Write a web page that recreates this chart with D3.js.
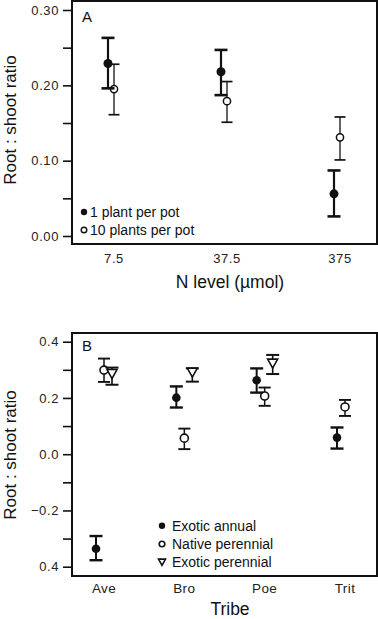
<!DOCTYPE html>
<html><head><meta charset="utf-8">
<script src="https://cdn.jsdelivr.net/npm/d3@7"></script>
<style>
html,body{margin:0;padding:0;background:#fff;}
svg{display:block;font-family:"Liberation Sans",Arial,sans-serif;}
</style></head>
<body>
<svg id="chart" width="378" height="619"></svg>
<script>
// ---------- Panel A data ----------
const nLevels = ["7.5", "37.5", "375"];
const onePlantMean  = [0.229, 0.218, 0.056];
const onePlantHigh  = [0.263, 0.247, 0.087];
const onePlantLow   = [0.196, 0.187, 0.026];
const tenPlantMean  = [0.195, 0.179, 0.131];
const tenPlantHigh  = [0.228, 0.205, 0.158];
const tenPlantLow   = [0.161, 0.151, 0.101];
const yTicksA = [0, 0.1, 0.2, 0.3];
const yTickLabelsA = ["0.00", "0.10", "0.20", "0.30"];
const yMinorA = [0.05, 0.15, 0.25];
const legendA = ["1 plant per pot", "10 plants per pot"];

// ---------- Panel B data ----------
const tribes = ["Ave", "Bro", "Poe", "Trit"];
const exoticAnnualMean = [-0.336, 0.201, 0.263, 0.059];
const exoticAnnualHigh = [-0.291, 0.241, 0.305, 0.095];
const exoticAnnualLow  = [-0.377, 0.166, 0.219, 0.020];
const nativePerMean    = [0.299, 0.057, 0.207, 0.168];
const nativePerHigh    = [0.340, 0.091, 0.237, 0.193];
const nativePerLow     = [0.257, 0.018, 0.172, 0.136];
const exoticPerTribes  = ["Ave", "Bro", "Poe"];
const exoticPerMean    = [0.285, 0.290, 0.322];
const exoticPerHigh    = [0.308, 0.305, 0.353];
const exoticPerLow     = [0.247, 0.258, 0.285];
const yTicksB = [-0.4, -0.2, 0, 0.2, 0.4];
const yTickLabelsB = ["0.4", "\u22120.2", "0.0", "0.2", "0.4"];
const yMinorB = [-0.3, -0.1, 0.1, 0.3];
const legendB = ["Exotic annual", "Native perennial", "Exotic perennial"];

const svg = d3.select("#chart");

function frame(g, x0, x1, y0, y1) {
  g.append("rect").attr("x", x0).attr("y", y0).attr("width", x1 - x0).attr("height", y1 - y0)
    .attr("fill", "none").attr("stroke", "#111").attr("stroke-width", 2);
}
function yAxis(g, y, x0, ticks, labels, minor) {
  const ax = d3.axisLeft(y).tickValues(ticks).tickFormat((d, i) => labels[i]).tickSize(9).tickPadding(4);
  const ag = g.append("g").attr("transform", `translate(${x0},0)`).call(ax);
  ag.select(".domain").remove();
  ag.selectAll("line").attr("stroke", "#111").attr("stroke-width", 1.6);
  ag.selectAll("text").attr("font-size", 13).attr("fill", "#222").attr("font-family", "Liberation Sans, Arial, sans-serif").attr("letter-spacing", 0.6);
  const mg = g.append("g").attr("transform", `translate(${x0},0)`).call(d3.axisLeft(y).tickValues(minor).tickSize(9).tickFormat(""));
  mg.select(".domain").remove();
  mg.selectAll("line").attr("stroke", "#111").attr("stroke-width", 1.6);
}
function errBar(g, x, yTop, yBot, cap, w) {
  g.append("line").attr("x1", x).attr("x2", x).attr("y1", yTop).attr("y2", yBot).attr("stroke", "#111").attr("stroke-width", w);
  g.append("line").attr("x1", x - cap / 2).attr("x2", x + cap / 2).attr("y1", yTop).attr("y2", yTop).attr("stroke", "#111").attr("stroke-width", w + 0.4);
  g.append("line").attr("x1", x - cap / 2).attr("x2", x + cap / 2).attr("y1", yBot).attr("y2", yBot).attr("stroke", "#111").attr("stroke-width", w + 0.4);
}
function dot(g, x, y, r) { g.append("circle").attr("cx", x).attr("cy", y).attr("r", r).attr("fill", "#111"); }
function ring(g, x, y, r, w) { g.append("circle").attr("cx", x).attr("cy", y).attr("r", r).attr("fill", "#fff").attr("stroke", "#111").attr("stroke-width", w || 1.5); }
function tri(g, x, y, s) {
  const h = s * 0.9;
  g.append("path").attr("d", `M${x - s / 2},${y - h / 2}L${x + s / 2},${y - h / 2}L${x},${y + h / 2}Z`)
    .attr("fill", "#fff").attr("stroke", "#111").attr("stroke-width", 1.6);
}

// ================= Panel A =================
const A = { x0: 72, x1: 377, y0: 1, y1: 244 };
const gA = svg.append("g");
const xA = d3.scalePoint().domain(nLevels).range([111, 337]);
const yA = d3.scaleLinear().domain([0, 0.3]).range([236, 10]);
yAxis(gA, yA, A.x0, yTicksA, yTickLabelsA, yMinorA);

nLevels.forEach((c, i) => {
  const xo = xA(c) + 3;
  errBar(gA, xo, yA(tenPlantHigh[i]), yA(tenPlantLow[i]), 11, 1.3);
  ring(gA, xo, yA(tenPlantMean[i]), 3.6, 1.5);
});
nLevels.forEach((c, i) => {
  const xb = xA(c) - 3;
  errBar(gA, xb, yA(onePlantHigh[i]), yA(onePlantLow[i]), 13, 2.2);
  dot(gA, xb, yA(onePlantMean[i]), 4.5);
});
frame(gA, A.x0, A.x1, A.y0, A.y1);

gA.selectAll(".xlab").data(nLevels).enter().append("text")
  .attr("x", d => xA(d) + 3).attr("y", 263).attr("text-anchor", "middle")
  .attr("font-size", 13).attr("fill", "#222").attr("letter-spacing", 0.6).text(d => d);
gA.append("text").attr("x", 230).attr("y", 288).attr("text-anchor", "middle")
  .attr("font-size", 17.5).attr("fill", "#111").text("N level (\u00b5mol)");
gA.append("text").attr("transform", "translate(16,120) rotate(-90)").attr("text-anchor", "middle")
  .attr("font-size", 17).attr("fill", "#111").text("Root : shoot ratio");
gA.append("text").attr("x", 82).attr("y", 22).attr("font-size", 15).attr("fill", "#111").text("A");

dot(gA, 84, 212, 3.2);
ring(gA, 84, 230, 2.8, 1.4);
gA.selectAll(".leg").data(legendA).enter().append("text")
  .attr("x", 90).attr("y", (d, i) => 217 + i * 18).attr("font-size", 14).attr("fill", "#111").text(d => d);

// ================= Panel B =================
const B = { x0: 72, x1: 377, y0: 333, y1: 576 };
const gB = svg.append("g");
const xB = d3.scalePoint().domain(tribes).range([104, 345]);
const yB = d3.scaleLinear().domain([-0.4, 0.4]).range([566.7, 341.7]);
yAxis(gB, yB, B.x0, yTicksB, yTickLabelsB, yMinorB);

tribes.forEach((c, i) => {
  const x = xB(c);
  errBar(gB, x, yB(nativePerHigh[i]), yB(nativePerLow[i]), 12, 1.5);
  ring(gB, x, yB(nativePerMean[i]), 4, 1.6);
});
exoticPerTribes.forEach((c, i) => {
  const x = xB(c) + 8;
  errBar(gB, x, yB(exoticPerHigh[i]), yB(exoticPerLow[i]), 13, 1.6);
  tri(gB, x, yB(exoticPerMean[i]), 10);
});
tribes.forEach((c, i) => {
  const x = xB(c) - 8;
  errBar(gB, x, yB(exoticAnnualHigh[i]), yB(exoticAnnualLow[i]), 13, 2);
  dot(gB, x, yB(exoticAnnualMean[i]), 4.3);
});
frame(gB, B.x0, B.x1, B.y0, B.y1);

gB.selectAll(".xlab").data(tribes).enter().append("text")
  .attr("x", d => xB(d)).attr("y", 593).attr("text-anchor", "middle")
  .attr("font-size", 13.5).attr("fill", "#222").attr("letter-spacing", 0.4).text(d => d);
gB.append("text").attr("x", 230).attr("y", 615).attr("text-anchor", "middle")
  .attr("font-size", 17.5).attr("fill", "#111").text("Tribe");
gB.append("text").attr("transform", "translate(16,455) rotate(-90)").attr("text-anchor", "middle")
  .attr("font-size", 17).attr("fill", "#111").text("Root : shoot ratio");
gB.append("text").attr("x", 82).attr("y", 351).attr("font-size", 15).attr("fill", "#111").text("B");

dot(gB, 162, 525.7, 3.2);
ring(gB, 162, 544, 2.8, 1.6);
tri(gB, 162, 562.3, 7);
gB.selectAll(".leg").data(legendB).enter().append("text")
  .attr("x", 172).attr("y", (d, i) => 530.5 + i * 18.3).attr("font-size", 14).attr("fill", "#111").text(d => d);
</script>
</body></html>
